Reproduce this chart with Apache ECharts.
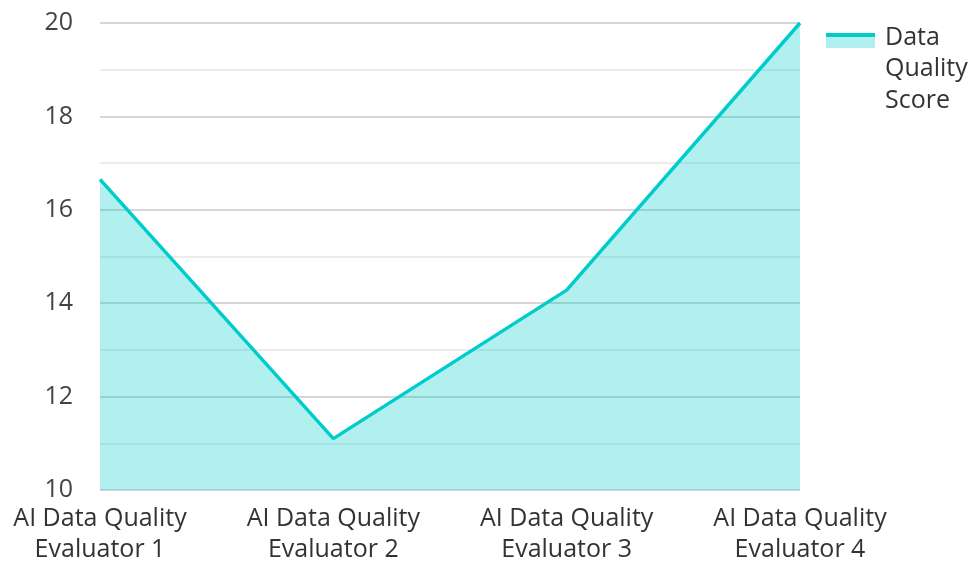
<!DOCTYPE html>
<html>
<head>
<meta charset="utf-8">
<script src="https://cdn.jsdelivr.net/npm/echarts@6/dist/echarts.min.js"></script>
<style>
  html, body { margin: 0; padding: 0; background: #fff; }
  #chart { width: 971px; height: 562px; }
</style>
</head>
<body>
<div id="chart"></div>
<script>
var myChart = echarts.init(document.getElementById('chart'));

// data
var categories = ['AI Data Quality\nEvaluator 1', 'AI Data Quality\nEvaluator 2', 'AI Data Quality\nEvaluator 3', 'AI Data Quality\nEvaluator 4'];
var scores = [16.65, 11.1, 14.28, 20];
var seriesName = 'Data Quality Score';

var lineColor = '#00cccc';
var font = 'Open Sans';

var option = {
	animation : false,
	grid : {
		left : 100,
		right : 171,
		top : 23,
		bottom : 72,
		outerBoundsMode : 'none'
	},
	legend : [ {
		// legend text (icon hidden)
		left : 825,
		top : 22,
		padding : 0,
		icon : 'rect',
		itemWidth : 55,
		itemHeight : 14,
		itemStyle : { opacity : 0 },
		formatter : function (n) { return n.split(' ').join('\n'); },
		textStyle : {
			fontFamily : font,
			fontSize : 25,
			color : '#333',
			lineHeight : 31.5
		},
		data : [seriesName]
	}, {
		// area swatch
		left : 826,
		top : 33,
		padding : 0,
		icon : 'rect',
		itemWidth : 49,
		itemHeight : 15,
		itemStyle : { color : '#b2efef' },
		formatter : function () { return ''; },
		data : [seriesName]
	}, {
		// line swatch
		left : 826,
		top : 33,
		padding : 0,
		icon : 'rect',
		itemWidth : 49,
		itemHeight : 4,
		itemStyle : { color : lineColor },
		formatter : function () { return ''; },
		data : [seriesName]
	} ],
	xAxis : {
		type : 'category',
		boundaryGap : false,
		data : categories,
		axisLine : { show : false },
		axisTick : { show : false },
		axisLabel : {
			fontFamily : font,
			fontSize : 25,
			color : '#333',
			lineHeight : 31.5,
			margin : 13
		}
	},
	yAxis : {
		type : 'value',
		min : 10,
		max : 20,
		interval : 2,
		axisLine : { show : false },
		axisTick : { show : false },
		axisLabel : {
			fontFamily : font,
			fontSize : 25,
			color : '#444',
			margin : 27
		},
		splitLine : { lineStyle : { color : '#c8c8c8', width : 1.5 } },
		minorTick : { show : false, splitNumber : 2 },
		minorSplitLine : { show : true, lineStyle : { color : '#e6e6e6', width : 1.5 } }
	},
	series : [ {
		name : seriesName,
		type : 'line',
		data : scores,
		showSymbol : false,
		symbol : 'none',
		lineStyle : { color : lineColor, width : 3.5 },
		itemStyle : { color : lineColor },
		areaStyle : { color : lineColor, opacity : 0.3 }
	} ]
};

myChart.setOption(option);
</script>
</body>
</html>
